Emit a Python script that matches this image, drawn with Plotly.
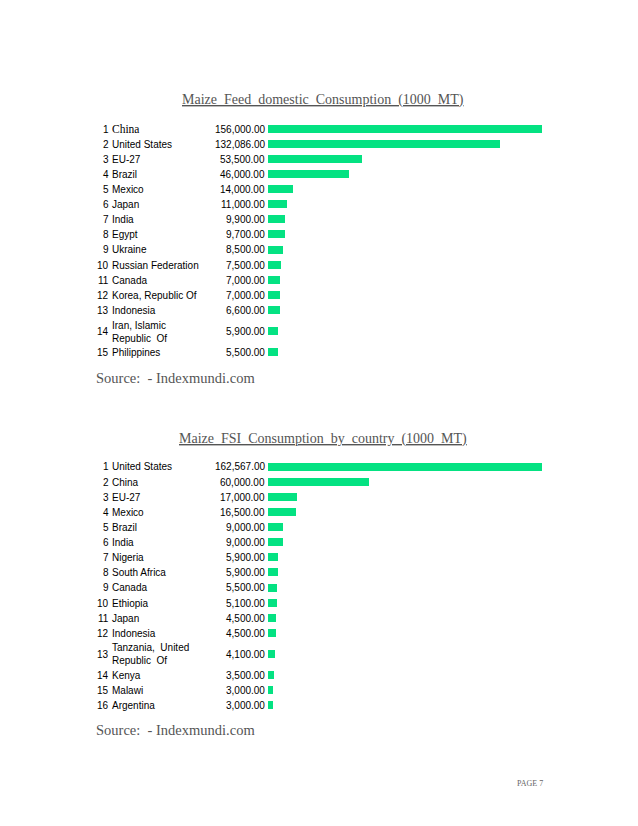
import plotly.graph_objects as go

# ---------------- data ----------------
feed_countries = ["China", "United States", "EU-27", "Brazil", "Mexico", "Japan", "India", "Egypt",
                  "Ukraine", "Russian Federation", "Canada", "Korea, Republic Of", "Indonesia",
                  "Iran, Islamic<br>Republic  Of", "Philippines"]
feed_values = [156000, 132086, 53500, 46000, 14000, 11000, 9900, 9700, 8500, 7500, 7000, 7000,
               6600, 5900, 5500]

fsi_countries = ["United States", "China", "EU-27", "Mexico", "Brazil", "India", "Nigeria",
                 "South Africa", "Canada", "Ethiopia", "Japan", "Indonesia",
                 "Tanzania,  United<br>Republic  Of", "Kenya", "Malawi", "Argentina"]
fsi_values = [162567, 60000, 17000, 16500, 9000, 9000, 5900, 5900, 5500, 5100, 4500, 4500,
              4100, 3500, 3000, 3000]

title1 = "Maize  Feed  domestic  Consumption  (1000  MT)"
title2 = "Maize  FSI  Consumption  by  country  (1000  MT)"
source_text = "Source:  - Indexmundi.com"
page_text = "PAGE 7"

# ---------------- layout constants ----------------
OFF = 8  # page body margin offset
W, H = 638, 826
ROW = 15.12
BAR_COLOR = "#04E282"
SANS = "Liberation Sans, Arial, sans-serif"
SERIF = "Liberation Serif, DejaVu Serif, serif"
X0, X1 = 268 - OFF, 542 - OFF


def px_x(v):
    return (v - OFF) / W


def px_y(v):
    return 1 - (v - OFF) / H


fig = go.Figure()
annotations = []


def add_chart(idx, names, values, first_center_px, serif_names=()):
    heights = [1.8 if "<br>" in n else 1.0 for n in names]
    centers = []
    acc = 0.0
    for h in heights:
        centers.append(acc + h / 2)
        acc += h
    total = acc
    top_px = first_center_px - ROW / 2
    bot_px = top_px + total * ROW
    xa = "x" if idx == 1 else "x2"
    ya = "y" if idx == 1 else "y2"
    fig.add_trace(go.Bar(x=values, y=centers, orientation="h", width=0.53,
                         marker=dict(color=BAR_COLOR, line=dict(width=0)),
                         xaxis=xa, yaxis=ya, showlegend=False, hoverinfo="skip"))
    ax_key = "xaxis" if idx == 1 else "xaxis2"
    ay_key = "yaxis" if idx == 1 else "yaxis2"
    fig.update_layout(**{
        ax_key: dict(domain=[X0 / W, X1 / W], range=[0, max(values)], visible=False,
                     anchor=ya, fixedrange=True),
        ay_key: dict(domain=[px_y(bot_px), px_y(top_px)], range=[total, 0], visible=False,
                     anchor=xa, fixedrange=True),
    })
    for i, (n, v, c) in enumerate(zip(names, values, centers)):
        annotations.append(dict(x=px_x(111), xref="paper", y=c, yref=ya, text=str(i + 1),
                                xanchor="right", yanchor="middle", showarrow=False,
                                font=dict(family=SANS, size=10, color="#000")))
        name_txt = n
        if n in serif_names:
            name_txt = ('<span style="font-family:Liberation Serif, serif;font-size:11.5px">'
                        + n + "</span>")
        annotations.append(dict(x=px_x(110), xref="paper", y=c, yref=ya, text=name_txt,
                                xanchor="left", yanchor="middle", showarrow=False, align="left",
                                font=dict(family=SANS, size=10, color="#000")))
        annotations.append(dict(x=px_x(266.5), xref="paper", y=c, yref=ya, text=f"{v:,.2f}",
                                xanchor="right", yanchor="middle", showarrow=False,
                                font=dict(family=SANS, size=10, color="#000")))


add_chart(1, feed_countries, feed_values, 129, serif_names=("China",))
add_chart(2, fsi_countries, fsi_values, 467)

for t, ypx in [(title1, 100), (title2, 439)]:
    annotations.append(dict(x=px_x(323), xref="paper", y=px_y(ypx), yref="paper",
                            text="<u>" + t + "</u>", xanchor="center", yanchor="middle",
                            showarrow=False, font=dict(family=SERIF, size=14, color="#555555")))
for ypx in [378, 730]:
    annotations.append(dict(x=px_x(94), xref="paper", y=px_y(ypx), yref="paper",
                            text=source_text, xanchor="left", yanchor="middle",
                            showarrow=False, font=dict(family=SERIF, size=14.5, color="#555555")))
annotations.append(dict(x=px_x(545), xref="paper", y=px_y(783), yref="paper", text=page_text,
                        xanchor="right", yanchor="middle", showarrow=False,
                        font=dict(family=SERIF, size=8, color="#666666")))

fig.update_layout(width=W, height=H, margin=dict(l=0, r=0, t=0, b=0),
                  paper_bgcolor="white", plot_bgcolor="white", bargap=0,
                  annotations=annotations)

fig.write_html("out.html", config={"displayModeBar": False})
